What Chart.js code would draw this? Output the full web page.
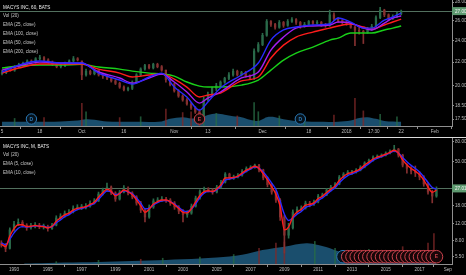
<!DOCTYPE html>
<html>
<head>
<meta charset="utf-8">
<script src="https://cdn.jsdelivr.net/npm/chart.js@4.4.0/dist/chart.umd.min.js"></script>
<style>
html, body { margin: 0; padding: 0; background: #000; width: 466px; height: 275px; overflow: hidden; }
.pane { position: absolute; left: 0; width: 466px; height: 137px; }
#p1 { top: 0; }
#p2 { top: 138px; }
.sep { position: absolute; left: 0; top: 137px; width: 466px; height: 1px; background: #dcdcdc; }
.leg { position: absolute; left: 3px; font: 4.6px "Liberation Sans", Arial, sans-serif; color: #c4c4c4; line-height: 8.8px; white-space: nowrap; }
.leg .t { color: #ececec; }
</style>
</head>
<body>
<div class="pane" id="p1"><canvas id="c1" width="466" height="137"></canvas></div>
<div class="sep"></div>
<div class="pane" id="p2"><canvas id="c2" width="466" height="137"></canvas></div>
<div class="leg" style="top:3.6px">
  <div class="t">MACYS INC, 60, BATS</div>
  <div>Vol (20)</div>
  <div>EMA (25, close)</div>
  <div>EMA (100, close)</div>
  <div>EMA (50, close)</div>
  <div>EMA (200, close)</div>
</div>
<div class="leg" style="top:142.6px">
  <div class="t">MACYS INC, M, BATS</div>
  <div>Vol (20)</div>
  <div>EMA (5, close)</div>
  <div>EMA (10, close)</div>
</div>
<script>
// ---- top panel: 60 min, shown here one candle per trading day (index 0 = Sep 5) ----
// [open, high, low, close]
const topBars = [
  [21.0,21.3,20.9,21.1],[21.1,21.5,21.0,21.4],[21.4,21.5,21.2,21.3],[21.3,21.7,21.2,21.6],[21.6,21.9,21.5,21.8],
  [21.8,22.0,21.7,21.9],[21.9,22.2,21.8,22.1],[22.1,22.2,21.9,22.0],[22.0,22.4,21.9,22.3],[22.3,22.6,22.2,22.4],
  [22.4,22.5,22.1,22.2],[22.2,22.3,21.9,22.0],[22.0,22.1,21.7,21.8],[21.8,21.9,21.5,21.6],[21.6,21.8,21.5,21.7],
  [21.7,22.0,21.6,21.9],[21.9,22.2,21.8,22.1],[22.1,22.5,22.0,22.3],[22.3,22.4,22.1,22.2],[22.1,22.1,20.5,20.9],
  [20.9,21.4,20.8,21.2],[21.2,21.3,20.9,21.0],[21.0,21.4,20.9,21.3],[21.3,21.3,20.8,20.9],[20.9,21.0,20.6,20.8],
  [20.8,20.9,20.5,20.6],[20.6,20.7,20.3,20.4],[20.4,20.5,20.1,20.2],[20.2,20.3,19.8,19.9],[19.9,20.0,19.6,19.7],
  [19.7,19.9,19.6,19.8],[19.8,20.4,19.7,20.3],[20.3,21.0,20.2,20.9],[20.9,21.5,20.8,21.4],[21.4,21.8,21.3,21.7],
  [21.7,21.8,21.4,21.5],[21.5,21.9,21.4,21.8],[21.8,21.9,21.5,21.6],[21.6,21.7,21.2,21.3],[21.3,21.3,20.3,20.5],
  [20.5,20.6,20.0,20.1],[20.1,20.2,19.5,19.6],[19.6,19.7,19.1,19.2],[19.2,19.3,18.8,18.9],[18.9,19.0,18.5,18.6],
  [18.6,18.7,18.2,18.3],[18.3,18.4,17.9,18.0],[18.0,18.1,17.4,17.7],[17.7,19.1,17.6,18.9],[18.9,19.5,18.8,19.3],
  [19.3,19.9,19.2,19.8],[19.8,20.2,19.6,20.0],[20.0,20.4,19.9,20.3],[20.3,20.7,20.2,20.6],[20.6,21.1,20.5,20.9],
  [20.9,21.4,20.8,21.2],[21.2,21.3,20.8,20.9],[20.9,21.2,20.8,21.1],[21.1,21.2,20.7,20.8],[20.8,20.9,20.5,20.6],
  [20.6,23.2,20.5,23.0],[23.0,23.8,22.9,23.6],[23.6,24.7,23.5,24.5],[24.5,26.1,24.4,25.9],[25.9,26.0,25.4,25.6],
  [25.6,25.7,25.1,25.3],[25.3,26.0,25.2,25.8],[25.8,25.9,25.3,25.5],[25.5,26.1,25.4,25.9],[25.9,26.3,25.8,26.1],
  [26.1,26.2,25.6,25.8],[25.8,25.9,25.2,25.4],[25.4,25.8,25.3,25.6],[25.6,26.0,25.5,25.9],[25.9,26.0,25.6,25.7],
  [25.7,26.0,25.6,25.8],[25.8,25.9,25.4,25.6],[25.6,25.7,25.3,25.5],[25.5,27.1,25.4,26.6],[26.6,26.8,26.0,26.2],
  [26.2,26.3,25.8,26.0],[26.0,26.1,25.6,25.8],[25.8,25.9,25.5,25.7],[25.7,25.8,25.2,25.3],[25.3,25.4,23.5,25.0],
  [25.0,25.3,24.6,24.9],[24.9,25.0,23.7,24.8],[24.8,25.3,24.7,25.1],[25.1,25.6,25.0,25.4],[25.4,26.5,25.3,26.3],
  [26.3,27.4,26.2,27.1],[27.1,27.2,26.4,26.6],[26.6,26.7,26.0,26.2],[26.2,26.6,26.1,26.4],[26.4,26.9,26.3,26.7],
  [26.7,27.1,26.6,27.0]
];
const topEmaIdx = [0,4,9,14,19,23,28,31,35,38,41,44,47,49,52,57,61,64,67,70,74,78,80,83,86,88,91,93,95];
const topEma25  = [21.14,21.74,22.09,21.92,21.92,21.05,20.47,20.14,20.72,21.05,19.90,19.12,18.14,18.74,19.82,20.89,21.92,24.03,25.03,25.33,25.53,25.63,26.26,25.84,25.22,25.22,26.05,26.36,26.79];
const topEma50  = [21.30,21.66,22.00,21.92,21.90,21.14,20.64,20.22,20.64,20.97,20.31,19.51,18.66,19.04,19.51,20.64,21.14,23.09,24.33,25.22,25.43,25.53,25.84,25.73,25.22,25.03,25.73,26.26,26.47];
const topEma100 = [21.05,21.48,21.83,21.83,21.83,21.39,21.05,20.72,20.89,20.97,20.55,19.90,19.12,19.27,19.43,20.40,20.72,22.36,23.55,24.33,24.82,25.22,25.43,25.63,25.33,25.12,25.53,25.84,26.15];
const topEma200 = [21.48,21.66,21.74,21.74,21.80,21.57,21.39,21.22,21.05,20.97,20.80,20.31,19.98,19.90,19.90,20.06,20.47,21.30,22.18,22.81,23.37,24.03,24.23,24.72,24.72,24.72,25.03,25.22,25.43];
const topVolIdx = [0,8,14,18,20,22,25,32,38,40,43,45,47,49,51,53,55,57,59,61,62,63,65,67,70,75,80,83,85,87,89,91,95];
const topVolMa  = [1.0,1.0,1.1,1.3,1.6,1.5,1.1,1.0,1.1,1.7,2.1,1.8,1.9,2.6,3.0,2.7,2.3,2.1,1.5,1.2,1.6,2.1,2.1,1.6,1.2,1.0,1.0,1.3,1.9,2.1,1.7,1.2,1.0];
const topSpikeIdx = [3,10,19,20,28,33,39,43,45,47,48,51,56,60,61,66,72,79,84,86,90,94];
const topSpike    = [1.8,2.0,5.4,3.4,2.0,2.2,4.0,3.2,3.4,4.0,4.4,3.0,2.4,5.6,3.4,2.4,2.2,2.6,6.6,3.6,2.8,2.2];
const topXTicks  = [0,9,19,29,41,49,62,73,82,88.5,95,103];
const topXLabels = ['5','18','Oct','16','Nov','13','Dec','18','2018','17:30','22','Feb'];
const topYTicks  = [17.5,18.5,20,22,24,26,28];
const topEvtIdx  = [7,47,71];
const topEvtKind = 'DED';
const topLast = 27.00;

// ---- bottom panel: monthly, shown here one candle per quarter (index 0 = 1992 Q2) ----
const botBars = [
  [7.6,8.0,6.9,7.2],[7.2,7.5,6.2,6.7],[6.7,10.8,6.6,10.3],[10.3,12.6,10.0,11.8],[11.8,13.3,11.4,12.3],
  [12.3,12.8,11.0,11.5],[11.5,11.9,10.2,10.8],[10.8,12.0,10.5,11.3],[11.3,12.2,10.8,11.5],[11.5,12.0,10.6,11.1],
  [11.1,11.8,10.5,11.1],[11.1,11.5,10.0,10.6],[10.6,12.0,10.4,11.5],[11.5,14.3,11.3,13.6],[13.6,15.0,13.2,14.2],
  [14.2,16.0,13.8,15.2],[15.2,16.5,14.6,15.6],[15.6,18.0,15.3,17.1],[17.1,18.5,16.4,17.5],[17.5,18.6,16.5,17.5],
  [17.5,19.0,16.8,17.9],[17.9,20.2,17.5,19.2],[19.2,21.3,18.8,20.2],[20.2,24.8,19.9,23.7],[23.7,27.2,23.2,26.0],
  [26.0,30.6,25.4,27.9],[27.9,28.6,23.4,24.3],[24.3,25.0,20.0,21.1],[21.1,25.8,20.6,24.8],[24.8,28.9,24.3,27.3],
  [27.3,28.0,23.2,24.3],[24.3,25.0,21.2,22.1],[22.1,22.8,18.3,19.2],[19.2,20.0,15.4,16.3],[16.3,17.0,12.4,13.9],
  [13.9,18.4,13.5,17.5],[17.5,21.2,17.0,20.2],[20.2,21.8,19.4,20.6],[20.6,22.3,19.8,21.1],[21.1,22.0,19.5,20.6],
  [20.6,21.3,18.2,19.2],[19.2,19.9,16.6,17.5],[17.5,18.1,15.0,15.9],[15.9,16.5,12.4,14.6],[14.6,16.1,13.8,15.2],
  [15.2,18.8,14.8,17.9],[17.9,22.6,17.5,21.6],[21.6,26.2,21.0,25.1],[25.1,27.8,24.5,26.6],[26.6,27.5,24.9,26.0],
  [26.0,26.8,23.6,24.8],[24.8,29.0,24.3,27.9],[27.9,32.5,27.3,31.2],[31.2,39.0,30.6,37.7],[37.7,38.5,33.0,34.5],
  [34.5,36.8,33.3,35.2],[35.2,38.2,34.4,36.8],[36.8,41.8,36.0,40.4],[40.4,44.6,39.5,43.1],[43.1,45.8,42.0,44.4],
  [44.4,47.5,43.2,46.5],[46.5,47.2,39.6,41.4],[41.4,42.2,33.0,34.5],[34.5,35.3,28.0,29.5],[29.5,30.4,23.6,24.8],
  [24.8,25.6,19.5,20.6],[20.6,21.3,12.8,13.9],[13.9,14.5,6.0,9.1],[9.1,12.0,8.5,10.8],[10.8,16.4,10.5,15.6],
  [15.6,17.6,15.0,16.7],[16.7,18.0,15.9,17.1],[17.1,20.1,16.7,19.2],[19.2,20.0,17.6,18.8],[18.8,20.6,18.2,19.7],
  [19.7,23.5,19.3,22.6],[22.6,24.2,21.6,23.2],[23.2,27.0,22.8,26.0],[26.0,29.0,25.5,27.9],[27.9,31.0,27.3,29.9],
  [29.9,36.5,29.4,35.2],[35.2,39.0,34.4,37.7],[37.7,41.0,36.5,39.5],[39.5,41.2,37.3,39.5],[39.5,42.8,38.6,41.4],
  [41.4,45.8,40.6,44.4],[44.4,50.2,43.6,48.8],[48.8,53.5,47.9,52.0],[52.0,57.5,51.0,56.0],[56.0,58.9,54.0,57.3],
  [57.3,60.3,55.5,58.6],[58.6,63.2,57.4,61.5],[61.5,66.2,60.3,64.4],[64.4,73.6,63.2,67.4],[67.4,68.4,56.0,58.6],
  [58.6,59.8,44.5,46.5],[46.5,47.8,38.6,43.1],[43.1,45.0,37.9,40.4],[40.4,45.5,35.6,38.6],[38.6,39.8,33.0,35.2],
  [35.2,36.3,28.4,29.9],[29.9,30.8,23.6,24.8],[24.8,25.8,19.3,22.6],[22.6,28.0,22.0,27.0]
];
const botEma5 = [
  7.4,7.0,8.9,10.6,11.6,11.6,11.1,11.2,11.4,11.2,
  11.1,10.8,11.2,12.6,13.6,14.6,15.2,16.3,17.0,17.3,
  17.7,18.6,19.6,22.0,24.4,26.5,25.2,22.7,24.0,26.0,
  25.0,23.3,20.7,18.0,15.5,16.7,18.8,19.9,20.6,20.6,
  19.8,18.4,16.9,15.5,15.3,16.9,19.7,22.9,25.1,25.6,
  25.1,26.8,29.4,34.4,34.5,34.9,36.0,38.6,41.3,43.2,
  45.2,42.9,37.9,32.9,28.0,23.6,17.8,10.3,11.0,13.9,
  15.6,16.6,18.3,18.6,19.3,21.3,22.5,24.6,26.6,28.6,
  32.5,35.6,38.0,39.0,40.5,42.8,46.4,49.8,53.5,55.8,
  57.5,59.9,62.6,65.5,61.4,52.4,46.8,42.9,40.3,37.2,
  32.8,27.9,24.7,26.0
];
const botEma10 = [
  7.6,7.3,8.3,9.6,10.7,11.1,11.0,11.1,11.3,11.2,
  11.2,10.9,11.1,12.1,13.0,14.0,14.7,15.7,16.5,17.0,
  17.4,18.2,19.1,21.0,23.3,25.4,25.0,23.3,24.0,25.5,
  25.0,23.8,21.6,19.2,16.8,17.0,18.4,19.4,20.2,20.4,
  19.9,18.8,17.4,16.1,15.7,16.7,18.9,21.8,24.2,25.1,
  25.0,26.2,28.5,32.6,33.6,34.4,35.5,37.7,40.3,42.4,
  44.5,43.3,39.5,35.0,30.5,26.3,20.0,14.8,12.8,13.6,
  14.8,15.8,17.3,18.0,18.8,20.4,21.7,23.5,25.5,27.5,
  30.8,33.8,36.4,37.9,39.5,41.6,44.8,48.1,51.8,54.4,
  56.5,58.9,61.6,64.3,61.6,55.4,50.3,46.1,42.9,39.6,
  35.3,31.0,27.6,26.5
];
const botVolT  = [1993.6,1995,1997,1999,2001,2003,2005,2006.5,2007.7,2009,2010.3,2011,2011.7,2012.3,2014,2016,2018.0];
const botVolMa = [5,10,16,24,33,45,62,88,133,165,197,180,149,117,115,115,118];
const botSpikeT = [1995.5,1998,2000.5,2001.8,2004,2006,2007.5,2008.5,2009,2010.8,2012,2014,2016,2017.5,2017.85];
const botSpike  = [22,35,45,55,65,90,150,200,210,215,150,140,165,200,290];
const botXTicks  = [1993,1995,1997,1999,2001,2003,2005,2007,2009,2011,2013,2015,2017,2018.67];
const botXLabels = ['1993','1995','1997','1999','2001','2003','2005','2007','2009','2011','2013','2015','2017','Sep'];
const botYTicks  = [5.5,8,12,18,50,80];
const botEvtT = [2012.47,2012.75,2013.0,2013.25,2013.5,2013.75,2014.0,2014.25,2014.5,2014.75,2015.0,2015.25,
                 2015.5,2015.75,2016.0,2016.25,2016.5,2016.75,2017.0,2017.25,2017.5,2017.75,2018.0];
const botEvtKind = 'DEEEEEEEEEEEEEEEEEEEEEE';
const botLast = 27.01;

Chart.defaults.font.family = '"Liberation Sans", Arial, sans-serif';
Chart.defaults.animation = false;

const UP = '#2a6a4a', DN = '#843030', AX = '#8f8f8f', TXT = '#bdbdbd';
const VUP = 'rgba(40,110,70,0.75)', VDN = 'rgba(130,40,40,0.75)';
const botX = k => 1992.25 + k / 4;

function candleSets(bars, xOf) {
  const col = c => bars[c.dataIndex][3] >= bars[c.dataIndex][0] ? UP : DN;
  return [
    { type: 'bar', order: 8, grouped: false, barThickness: 1, yAxisID: 'y', backgroundColor: col,
      data: bars.map((b, i) => ({ x: xOf(i), y: [b[2], b[1]] })) },
    { type: 'bar', order: 7, grouped: false, barThickness: 1.6, minBarLength: 1, yAxisID: 'y', backgroundColor: col,
      data: bars.map((b, i) => ({ x: xOf(i), y: [b[0], b[3]] })) }
  ];
}
function emaSet(xs, ys, color, order) {
  return { type: 'line', order, yAxisID: 'y', borderColor: color, borderWidth: 1.4, pointRadius: 0,
           cubicInterpolationMode: 'monotone', data: xs.map((x, j) => ({ x, y: ys[j] })) };
}
function axes(o) {
  return {
    x: { type: 'linear', min: o.xMin, max: o.xMax, offset: false,
         grid: { drawOnChartArea: false, tickLength: 3, color: AX }, border: { color: AX },
         ticks: { autoSkip: false, maxRotation: 0, minRotation: 0, padding: 0, color: TXT,
                  font: { size: 4.6 }, callback: (v, i) => o.xLabels[i] },
         afterBuildTicks: s => { s.ticks = o.xTicks.map(v => ({ value: v })); },
         afterFit: s => { s.height = 11; s.paddingLeft = 0; s.paddingRight = 0; } },
    y: { type: 'logarithmic', position: 'right', min: o.yMin, max: o.yMax,
         grid: { drawOnChartArea: false, tickLength: 2, color: AX }, border: { color: AX },
         ticks: { padding: 1, color: TXT, font: { size: 4.6 }, callback: v => Number(v).toFixed(2) },
         afterBuildTicks: s => { s.ticks = o.yTicks.map(v => ({ value: v })); },
         afterFit: s => { s.width = 14; s.paddingTop = 0; s.paddingBottom = 0; } },
    v: { display: false, min: 0, max: o.vMax }
  };
}
function pricePlugin(val) {
  return {
    id: 'price',
    beforeDatasetsDraw(chart) {
      const ctx = chart.ctx, a = chart.chartArea;
      const y = Math.round(chart.scales.y.getPixelForValue(val)) + 0.5;
      ctx.save();
      ctx.strokeStyle = '#52705e';
      ctx.lineWidth = 1;
      ctx.beginPath(); ctx.moveTo(a.left, y); ctx.lineTo(a.right, y); ctx.stroke();
      ctx.restore();
    },
    afterDraw(chart) {
      const ctx = chart.ctx, a = chart.chartArea;
      const y = chart.scales.y.getPixelForValue(val);
      ctx.save();
      ctx.fillStyle = '#5e9a70';
      ctx.fillRect(a.right, y - 4, chart.width - a.right, 8);
      ctx.fillStyle = '#f4f4f4';
      ctx.font = '4.6px "Liberation Sans", Arial, sans-serif';
      ctx.textBaseline = 'middle';
      ctx.fillText(val.toFixed(2), a.right + 3, y + 0.3);
      ctx.restore();
    }
  };
}
function eventPlugin(xs, kinds, r, dy) {
  return {
    id: 'events',
    afterDatasetsDraw(chart) {
      const ctx = chart.ctx, a = chart.chartArea, sx = chart.scales.x;
      const y = a.bottom - dy;
      ctx.save();
      ctx.font = 'bold 5px "Liberation Sans", Arial, sans-serif';
      ctx.textAlign = 'center';
      ctx.textBaseline = 'middle';
      xs.forEach((t, j) => {
        const k = kinds[j], x = sx.getPixelForValue(t);
        const c = k === 'D' ? '#2b79b6' : '#c9424c';
        ctx.beginPath(); ctx.arc(x, y, r, 0, Math.PI * 2);
        ctx.fillStyle = k === 'D' ? '#06121c' : '#170608'; ctx.fill();
        ctx.lineWidth = 1; ctx.strokeStyle = c; ctx.stroke();
        ctx.fillStyle = c; ctx.fillText(k, x, y + 0.3);
      });
      ctx.restore();
    }
  };
}
const baseOpts = {
  responsive: false,
  layout: { padding: 0 },
  plugins: { legend: { display: false }, tooltip: { enabled: false } }
};

// top chart
const topCol = i => topBars[i][3] >= topBars[i][0] ? VUP : VDN;
new Chart(document.getElementById('c1'), {
  type: 'bar',
  data: { datasets: [
    { type: 'line', order: 10, yAxisID: 'v', fill: 'origin', backgroundColor: 'rgba(31,92,128,0.85)',
      borderWidth: 0, pointRadius: 0, tension: 0.35,
      data: topVolIdx.map((x, j) => ({ x, y: topVolMa[j] })) },
    { type: 'bar', order: 9, grouped: false, barThickness: 1, yAxisID: 'v',
      backgroundColor: c => topCol(topSpikeIdx[c.dataIndex]),
      data: topSpikeIdx.map((x, j) => ({ x, y: topSpike[j] })) },
    ...candleSets(topBars, i => i),
    emaSet(topEmaIdx, topEma200, '#19d019', 4),
    emaSet(topEmaIdx, topEma100, '#ff1c1c', 3),
    emaSet(topEmaIdx, topEma50, '#a21cf2', 2),
    emaSet(topEmaIdx, topEma25, '#2a2aff', 1)
  ]},
  options: Object.assign({}, baseOpts, {
    scales: axes({ xMin: -0.48, xMax: 107.1, xTicks: topXTicks, xLabels: topXLabels,
                   yMin: 17.02, yMax: 28.23, yTicks: topYTicks, vMax: 30 })
  }),
  plugins: [pricePlugin(topLast), eventPlugin(topEvtIdx, topEvtKind, 5.2, 7)]
});

// bottom chart
const botCol = t => { const b = botBars[Math.min(botBars.length - 1, Math.round((t - 1992.25) * 4))]; return b[3] >= b[0] ? VUP : VDN; };
new Chart(document.getElementById('c2'), {
  type: 'bar',
  data: { datasets: [
    { type: 'line', order: 10, yAxisID: 'v', fill: 'origin', backgroundColor: 'rgba(31,92,128,0.85)',
      borderWidth: 0, pointRadius: 0, tension: 0.35,
      data: botVolT.map((x, j) => ({ x, y: botVolMa[j] })) },
    { type: 'bar', order: 9, grouped: false, barThickness: 1, yAxisID: 'v',
      backgroundColor: c => botCol(botSpikeT[c.dataIndex]),
      data: botSpikeT.map((x, j) => ({ x, y: botSpike[j] })) },
    ...candleSets(botBars, botX),
    emaSet(botBars.map((b, k) => botX(k)), botEma10, '#2a2aff', 2),
    emaSet(botBars.map((b, k) => botX(k)), botEma5, '#ff1c1c', 1)
  ]},
  options: Object.assign({}, baseOpts, {
    scales: axes({ xMin: 1992.17, xMax: 2018.92, xTicks: botXTicks, xLabels: botXLabels,
                   yMin: 4.66, yMax: 87.2, yTicks: botYTicks, vMax: 1200 })
  }),
  plugins: [pricePlugin(botLast), eventPlugin(botEvtT, botEvtKind, 6.3, 7.3)]
});
</script>
</body>
</html>
